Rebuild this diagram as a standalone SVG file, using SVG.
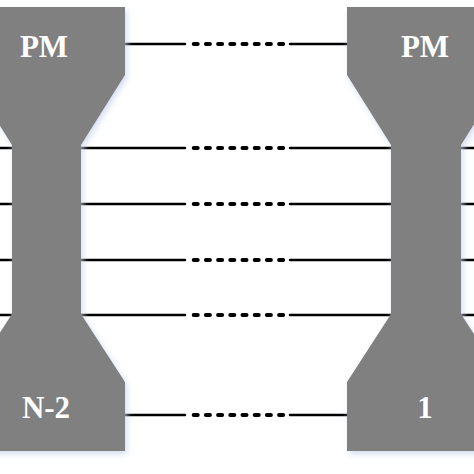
<svg xmlns="http://www.w3.org/2000/svg" width="474" height="474" viewBox="0 0 474 474">
  <defs>
    <filter id="sh" x="-20%" y="-20%" width="140%" height="140%">
      <feDropShadow dx="2" dy="3" stdDeviation="3" flood-color="#c8d4ec" flood-opacity="0.8"/>
    </filter>
  </defs>
  <style>
    .node { fill: #808080; filter: url(#sh); }
    .lbl { font-family: "Liberation Serif", "Times New Roman", serif; font-weight: bold; font-size: 31px; fill: #ffffff; text-anchor: middle; }
    .solid { stroke: #000; stroke-width: 2.5; stroke-linecap: round; fill: none; }
    .dots { stroke: #000; stroke-width: 4; stroke-linecap: round; stroke-dasharray: 4 8.2; fill: none; }
  </style>
  <rect width="474" height="474" fill="#ffffff"/>
  <g id="connectors">
    <g id="row1">
      <path class="solid" d="M125 44 H185"/>
      <path class="dots" d="M193.7 44 H284"/>
      <path class="solid" d="M290 44 H347"/>
    </g>
    <g id="row2">
      <path class="solid" d="M0 148 H12"/>
      <path class="solid" d="M81 148 H185"/>
      <path class="dots" d="M193.7 148 H284"/>
      <path class="solid" d="M290 148 H391"/>
      <path class="solid" d="M461 148 H474"/>
    </g>
    <g id="row3">
      <path class="solid" d="M0 204 H12"/>
      <path class="solid" d="M81 204 H185"/>
      <path class="dots" d="M193.7 204 H284"/>
      <path class="solid" d="M290 204 H391"/>
      <path class="solid" d="M461 204 H474"/>
    </g>
    <g id="row4">
      <path class="solid" d="M0 260 H12"/>
      <path class="solid" d="M81 260 H185"/>
      <path class="dots" d="M193.7 260 H284"/>
      <path class="solid" d="M290 260 H391"/>
      <path class="solid" d="M461 260 H474"/>
    </g>
    <g id="row5">
      <path class="solid" d="M0 315 H12"/>
      <path class="solid" d="M81 315 H185"/>
      <path class="dots" d="M193.7 315 H284"/>
      <path class="solid" d="M290 315 H391"/>
      <path class="solid" d="M461 315 H474"/>
    </g>
    <g id="row6">
      <path class="solid" d="M125 415 H185"/>
      <path class="dots" d="M193.7 415 H284"/>
      <path class="solid" d="M290 415 H347"/>
    </g>
  </g>
  <g id="node-left">
    <polygon class="node" points="-32,7 125,7 125,75 81,145 81,314 125,382 125,451 -32,451 -32,382 12,314 12,145 -32,75"/>
    <text class="lbl" x="44" y="57">PM</text>
    <text class="lbl" x="46" y="418">N-2</text>
  </g>
  <g id="node-right">
    <polygon class="node" points="347,7 505,7 505,75 461,145 461,314 505,382 505,451 347,451 347,382 391,314 391,145 347,75"/>
    <text class="lbl" x="425" y="57">PM</text>
    <text class="lbl" x="425" y="418">1</text>
  </g>
</svg>
